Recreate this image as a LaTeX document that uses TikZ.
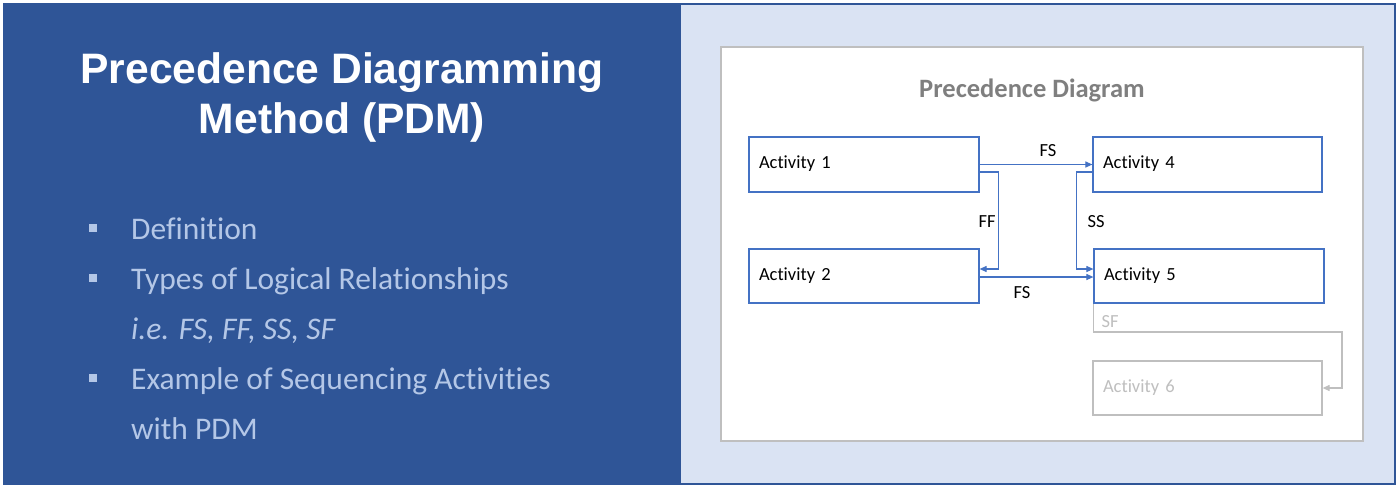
\documentclass[tikz,border=0pt]{standalone}
\usepackage{fontspec}
\setmainfont{Carlito}[Ligatures=NoCommon]
\newfontfamily\arialfont{Liberation Sans}
\usetikzlibrary{arrows.meta,calc}
\definecolor{darkblue}{HTML}{2F5597}
\definecolor{lightpanel}{HTML}{DAE3F3}
\definecolor{boxblue}{HTML}{4472C4}
\definecolor{bullettext}{HTML}{B4C7E7}
\definecolor{grayline}{HTML}{BFBFBF}
\definecolor{titlegray}{HTML}{7F7F7F}
\tikzset{
  actbox/.style={draw=boxblue, line width=1.2pt, minimum width=230pt, minimum height=55pt,
    text width=210pt, inner sep=10pt, align=left, font=\fontsize{18.5}{22}\selectfont, text=black},
  grayact/.style={actbox, draw=grayline, text=grayline},
  rel/.style={draw=boxblue, line width=1.1pt, -{Triangle[length=7pt,width=6pt]}},
  grayrel/.style={rel, draw=grayline},
  rellabel/.style={font=\fontsize{18.5}{22}\selectfont, text=black, inner sep=0pt},
  bullettxt/.style={anchor=base west, text=bullettext, font=\fontsize{31.5}{38}\selectfont, inner sep=0pt},
  bulletsq/.style={fill=bullettext, minimum width=8pt, minimum height=8pt, inner sep=0pt},
  titletxt/.style={anchor=base, text=white, font=\arialfont\bfseries\fontsize{42.6}{51}\selectfont, inner sep=0pt}
}
\begin{document}
\begin{tikzpicture}[x=1pt,y=-1pt]
\useasboundingbox (0,0) rectangle (1399,488);
\fill[white] (0,0) rectangle (1399,488);
% panels
\filldraw[fill=lightpanel, draw=darkblue, line width=2pt] (4,4) rectangle (1395,484);
\fill[darkblue] (3,3) rectangle (681,485);
% left title
\node[titletxt] (t1) at (342,83) {Precedence Diagramming};
\node[titletxt] (t2) at (342,133) {Method (PDM)};
% bullets
\node[bulletsq] (b1) at (93,228) {};
\node[bulletsq] (b2) at (93,278) {};
\node[bulletsq] (b3) at (93,378) {};
\node[bullettxt] (l1) at (131,239) {Definition};
\node[bullettxt] (l2) at (131,289) {Types of Logical Relationships};
\node[bullettxt] (l3) at (131,339) {\itshape i.e. FS, FF, SS, SF};
\node[bullettxt] (l4) at (131,389) {Example of Sequencing Activities};
\node[bullettxt] (l5) at (131,439) {with PDM};
% white inner box
\filldraw[fill=white, draw=grayline, line width=1.5pt] (721,47) rectangle (1363,441);
\node[text=titlegray, font=\bfseries\fontsize{26.5}{30}\selectfont] (dt) at (1032,90.5) {Precedence Diagram};
% activities
\node[actbox] (A1) at (864,164.5) {\strut Activity 1};
\node[actbox, minimum height=54pt] (A2) at (864,276) {\strut Activity 2};
\node[actbox, minimum width=229pt, text width=209pt] (A4) at (1207.5,164.5) {\strut Activity 4};
\node[actbox, minimum height=54pt] (A5) at (1209,276) {\strut Activity 5};
\node[grayact, minimum width=229pt, text width=209pt, minimum height=54pt] (A6) at (1207.5,388) {\strut Activity 6};
% relationships
\draw[rel] (A1.east) -- (A4.west);
\draw[rel] ([yshift=-7.5pt]A1.east) -- ++(19,0) |- ([yshift=7pt]A2.east);
\draw[rel] ([yshift=-7.5pt]A4.west) -- ++(-16,0) |- ([yshift=7pt]A5.west);
\draw[rel] ([yshift=-1pt]A2.east) -- ([yshift=-1pt]A5.west);
\coordinate (sfc) at (1342,332);
\draw[grayrel] (A5.south west) |- (sfc) |- (A6.east);
% labels
\node[rellabel] (fs1) at (1048,151) {FS};
\node[rellabel] (ff) at (987,222) {FF};
\node[rellabel] (ss) at (1096,222) {SS};
\node[rellabel] (fs2) at (1022,293) {FS};
\node[rellabel, text=grayline] (sf) at (1110,322) {SF};
\end{tikzpicture}
\end{document}
